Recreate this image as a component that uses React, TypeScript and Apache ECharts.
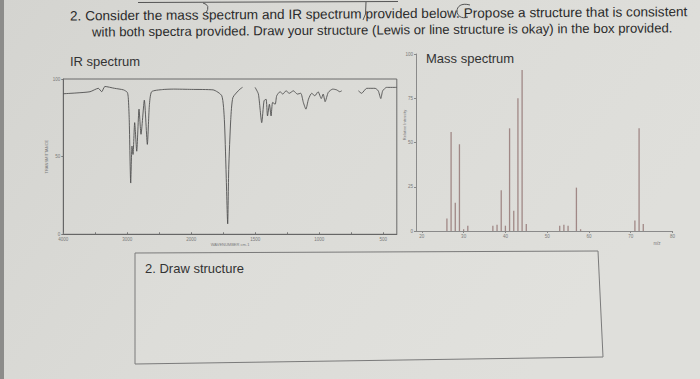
import React, { useEffect, useRef } from "react";
import * as echarts from "echarts";

// ---------- IR spectrum (wavenumber cm-1, transmittance %) ; null = gap in the recorded trace
const irWavenumbers = [
  4000, 3800, 3583, 3453, 3400, 3350, 3200, 3060, 3000, 2985, 2970, 2947, 2927, 2911, 2885, 2853,
  2817, 2786, 2734, 2687, 2656, 2620, 2450, 2280, 2000, 1830, 1762, 1742, 1729, 1716, 1708, 1692,
  1675, 1620, 1600, 1550, 1502, 1476, 1450, 1432, 1416, 1405, 1390, 1377, 1365, 1345, 1333, 1307,
  1285, 1260, 1235, 1203, 1172, 1145, 1125, 1105, 1085, 1060, 1035, 1010, 985, 970, 955, 930, 895,
  865, 840, 825, 760, 695, 670, 630, 565, 540, 520, 505, 475, 395,
];
const irTransmittance = [
  90.5, 91, 91.8, 94, 91.8, 95.2, 94, 93, 91.4, 88, 74, 33, 56.8, 51.4, 71.9, 53.5,
  80.6, 64.4, 86.4, 57.9, 82.7, 91.8, 93.2, 93.5, 93.3, 93, 89.2, 74, 41.7, 6.7, 41.7, 74,
  88.1, 93.5, 94.6, null, 94.6, 90.3, 71.9, 86, 87, 76.2, 83.8, 76.2, 84.9, 83.8, 89.2, 91.8,
  90.3, 92.4, 90.8, 92.4, 90.3, 90.8, 84.9, 80.6, 87, 90.8, 89.2, 91.8, 87.4, 90.3, 85.4, 91.4, 93.5,
  93, 91.8, 92.4, null, 92.4, 90.8, 94, 94, 92.4, 87.4, 92.4, 94.6, 94.6,
];
const irTickWavenumbers = [4000, 3000, 2000, 1500, 1000, 500];
const irYTicks = [0, 50, 100];

// ---------- Mass spectrum (m/z, relative intensity %)
const msMz = [26, 27, 28, 29, 30, 31, 37, 38, 39, 40, 41, 42, 43, 44, 45, 53, 54, 55, 57, 58, 71, 72, 73];
const msIntensity = [7, 56, 16, 49, 1, 3, 3, 3.5, 23, 3, 58, 11.5, 75, 91, 4, 3, 3.5, 3, 24.5, 1, 6, 58, 4];
const msXTicks = [20, 30, 40, 50, 60, 70, 80];
const msYTicks = [0, 25, 50, 75, 100];

// NIST-style IR axis: 4000-2000 at half scale, 2000-400 at full scale
const toAxis = (w: number) => (w >= 2000 ? (4000 - w) / 1000 : 2 + (2000 - w) / 500);

const FONT = '"Liberation Sans", Arial, Helvetica, sans-serif';

export default function App() {
  const ref = useRef<HTMLDivElement>(null);

  useEffect(() => {
    if (!ref.current) return;
    const chart = echarts.init(ref.current, undefined, { renderer: "svg", width: 700, height: 379 });

    const irData = irWavenumbers.map((w, i) => [toAxis(w), irTransmittance[i] == null ? "-" : irTransmittance[i]]);
    const irTickPos = irTickWavenumbers.map(toAxis);
    const msData = msMz.map((m, i) => [m, msIntensity[i]]);

    const tiny = { fontSize: 4.5, color: "#7a7a7a", fontFamily: FONT };

    chart.setOption({
      animation: false,
      backgroundColor: "#dadad6",
      grid: [
        { left: 63.3, top: 79, width: 333.5, height: 155.3, show: true, borderColor: "#6a6a6a", borderWidth: 1, backgroundColor: "transparent" },
        { left: 416, top: 54, width: 256.5, height: 177 },
      ],
      xAxis: [
        {
          gridIndex: 0,
          type: "value",
          min: 0,
          max: 5.21,
          interval: 0.5,
          axisLine: { lineStyle: { color: "#666", width: 1 } },
          axisTick: { inside: true, length: 2, lineStyle: { color: "#777" } },
          splitLine: { show: false },
          axisLabel: {
            ...tiny,
            margin: 2.5,
            showMaxLabel: false,
            formatter: (v: number) => {
              const idx = irTickPos.findIndex((p) => Math.abs(p - v) < 1e-6);
              return idx >= 0 ? String(irTickWavenumbers[idx]) : "";
            },
          },
          name: "WAVENUMBER cm-1",
          nameLocation: "middle",
          nameGap: 8,
          nameTextStyle: { ...tiny, fontSize: 4 },
        },
        {
          gridIndex: 1,
          type: "value",
          min: 18.6,
          max: 80,
          axisLine: { lineStyle: { color: "#8a8a8a", width: 1 } },
          axisTick: { customValues: msXTicks, length: 2, lineStyle: { color: "#888" } },
          splitLine: { show: false },
          axisLabel: { ...tiny, margin: 2.5, customValues: msXTicks },
        },
      ],
      yAxis: [
        {
          gridIndex: 0,
          type: "value",
          min: 0,
          max: 100,
          interval: 50,
          axisLine: { show: true, lineStyle: { color: "#666", width: 1 } },
          axisTick: { show: true, length: 2, lineStyle: { color: "#777" } },
          splitLine: { show: false },
          axisLabel: { ...tiny, margin: 3, customValues: irYTicks },
          name: "TRANSMITTANCE",
          nameLocation: "middle",
          nameRotate: 90,
          nameGap: 11,
          nameTextStyle: { ...tiny, fontSize: 4 },
        },
        {
          gridIndex: 1,
          type: "value",
          min: 0,
          max: 100,
          axisLine: { show: true, lineStyle: { color: "#8a8a8a", width: 1 } },
          axisTick: { show: true, customValues: msYTicks, length: 2, lineStyle: { color: "#888" } },
          splitLine: { show: false },
          axisLabel: { ...tiny, margin: 3, customValues: msYTicks },
        },
      ],
      series: [
        {
          type: "line",
          xAxisIndex: 0,
          yAxisIndex: 0,
          data: irData,
          showSymbol: false,
          connectNulls: false,
          smooth: 0.2,
          lineStyle: { color: "#505050", width: 0.9 },
          silent: true,
        },
        {
          type: "bar",
          xAxisIndex: 1,
          yAxisIndex: 1,
          data: msData,
          barWidth: 1.3,
          itemStyle: { color: "#a08886" },
          silent: true,
        },
      ],
      graphic: [
        {
          type: "rect",
          z: -100,
          silent: true,
          shape: { x: 0, y: 0, width: 700, height: 379 },
          style: {
            fill: {
              type: "linear", x: 0, y: 0, x2: 1, y2: 0.4,
              colorStops: [
                { offset: 0, color: "#d4d4d0" },
                { offset: 0.5, color: "#dbdbd7" },
                { offset: 1, color: "#dfdfdb" },
              ],
            },
          },
        },
        { type: "rect", z: -99, silent: true, shape: { x: 0, y: 0, width: 4, height: 379 }, style: { fill: "#8c8c8a" } },
        // top edge of the previous answer box and pen marks
        { type: "line", z: 10, silent: true, shape: { x1: 138, y1: 2.5, x2: 398, y2: 1.5 }, style: { stroke: "#555", lineWidth: 1 } },
        { type: "bezierCurve", z: 10, silent: true, shape: { x1: 203, y1: 3, cpx1: 211, cpy1: 5, x2: 206, y2: 13 }, style: { stroke: "#555", lineWidth: 1, fill: "none" } },
        { type: "polyline", z: 10, silent: true, shape: { points: [[366, 2], [365.5, 14], [363, 20]] }, style: { stroke: "#555", lineWidth: 1, fill: "none" } },
        { type: "bezierCurve", z: 10, silent: true, shape: { x1: 470, y1: 5, cpx1: 452, cpy1: 0, cpx2: 454, cpy2: 22, x2: 468, y2: 17 }, style: { stroke: "#555", lineWidth: 1, fill: "none" } },
        // question text
        {
          type: "text", z: 20, silent: true, x: 70, y: 16, rotation: 0.007,
          style: { text: "2. Consider the mass spectrum and IR spectrum provided below. Propose a structure that is consistent", fontSize: 13.6, fontFamily: FONT, fill: "#2b2b2b", textVerticalAlign: "middle" },
        },
        {
          type: "text", z: 20, silent: true, x: 92, y: 32, rotation: 0.007,
          style: { text: "with both spectra provided. Draw your structure (Lewis or line structure is okay) in the box provided.", fontSize: 13.2, fontFamily: FONT, fill: "#2b2b2b", textVerticalAlign: "middle" },
        },
        {
          type: "text", z: 20, silent: true, x: 70, y: 61,
          style: { text: "IR spectrum", fontSize: 13, fontFamily: FONT, fill: "#333", textVerticalAlign: "middle" },
        },
        {
          type: "text", z: 20, silent: true, x: 426, y: 58,
          style: { text: "Mass spectrum", fontSize: 13, fontFamily: FONT, fill: "#333", textVerticalAlign: "middle" },
        },
        {
          type: "text", z: 20, silent: true, x: 404, y: 125, rotation: Math.PI / 2,
          style: { text: "Relative Intensity", fontSize: 4, fontFamily: FONT, fill: "#7a7a7a", textAlign: "center", textVerticalAlign: "middle" },
        },
        {
          type: "text", z: 20, silent: true, x: 657, y: 243,
          style: { text: "m/z", fontSize: 4.5, fontFamily: FONT, fill: "#7a7a7a", textAlign: "center", textVerticalAlign: "middle" },
        },
        // answer box
        {
          type: "polygon", z: 5, silent: true,
          shape: { points: [[135, 253], [598, 251], [603, 357], [135, 364]] },
          style: { fill: "rgba(255,255,255,0.07)", stroke: "#7a7a7a", lineWidth: 1 },
        },
        {
          type: "text", z: 20, silent: true, x: 145, y: 268,
          style: { text: "2. Draw structure", fontSize: 13, fontFamily: FONT, fill: "#333", textVerticalAlign: "middle" },
        },
      ],
    });

    return () => chart.dispose();
  }, []);

  return <div ref={ref} style={{ position: "fixed", left: 0, top: 0, width: 700, height: 379 }} />;
}
